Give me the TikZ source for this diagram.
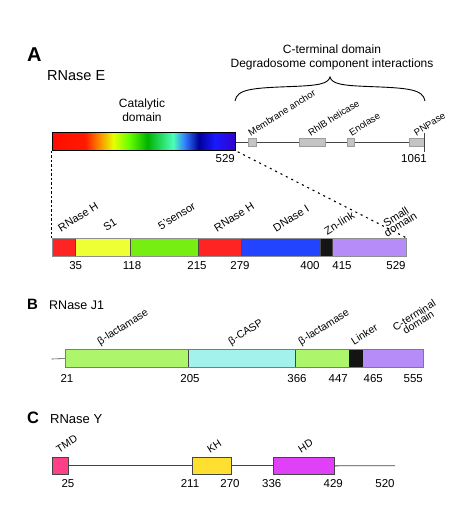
\documentclass[tikz,border=0pt]{standalone}
\usepackage{fontspec}
\usepackage{graphicx}
\setmainfont{Liberation Sans}
\definecolor{eRed}{HTML}{FF2424}
\definecolor{eYellow}{HTML}{EEFF33}
\definecolor{eGreen}{HTML}{77EE11}
\definecolor{eBlue}{HTML}{2244FF}
\definecolor{eLav}{HTML}{B58CF8}
\definecolor{jGreen}{HTML}{ADF56B}
\definecolor{jCyan}{HTML}{A3F3EC}
\definecolor{yPink}{HTML}{FF4088}
\definecolor{yYellow}{HTML}{FFE030}
\definecolor{yMag}{HTML}{E040F8}
\definecolor{boxGray}{HTML}{C4C4C4}
\definecolor{lineGray}{HTML}{444444}
\pgfdeclarehorizontalshading{rainbowE}{100bp}{%
color(0bp)=(red!90!orange);
color(25bp)=(red!90!orange);
color(34bp)=(red!80!orange);
color(37.5bp)=(orange);
color(41.7bp)=(yellow!90!green);
color(46bp)=(green!60!yellow);
color(51bp)=(green!70!black);
color(58bp)=(green!40!cyan!70!white);
color(61bp)=(cyan!40!blue!80!white);
color(65bp)=(blue!60!black);
color(69.5bp)=(blue!90!white);
color(75bp)=(blue!60!violet);
color(100bp)=(blue!60!violet)}
\newcommand{\rlab}[1]{\rotatebox{32}{#1}}
\newcommand{\rlabtwo}[2]{\rotatebox{32}{\begin{tabular}{@{}c@{}}#1\\[-3pt]#2\end{tabular}}}
\tikzset{
  gbox/.style={fill=boxGray, draw=boxGray!80!black, line width=0.3pt},
  num/.style={font=\fontsize{11.5}{12}\selectfont, inner sep=0pt, anchor=base},
  lab/.style={font=\fontsize{11}{12}\selectfont, inner sep=0pt, anchor=base west},
  slab/.style={font=\fontsize{9.5}{10}\selectfont, inner sep=0pt, anchor=base west},
  mlab/.style={font=\fontsize{11}{11.5}\selectfont, inner sep=0pt},
  panel/.style={font=\bfseries, inner sep=0pt, anchor=base west},
  title/.style={inner sep=0pt, anchor=base west},
  dots/.style={line width=1.1pt, dash pattern=on 2pt off 4pt},
  backbone/.style={draw=lineGray, line width=0.9pt}
}
\begin{document}
\begin{tikzpicture}[x=1pt,y=-1pt]
\useasboundingbox (0,0) rectangle (474,511);
% ---------- Panel A ----------
\node[panel, font=\fontsize{20}{20}\bfseries] (pA) at (27,62) {A};
\node[title, font=\fontsize{14.5}{15}\selectfont] (tE) at (47,80) {RNase E};
\node[font=\fontsize{12}{14}\selectfont, align=center, inner sep=0pt] (cat) at (142,110) {Catalytic\\domain};
\node[font=\fontsize{12}{14}\selectfont, align=center, inner sep=0pt] (cterm) at (332,57) {C-terminal domain\\Degradosome component interactions};
% brace
\draw[line width=0.9pt] (235,101) .. controls (237,89) and (252,88) .. (292,86.5) .. controls (318,85.5) and (328,84) .. (330,77)
  .. controls (332,84) and (342,85.5) .. (368,86.5) .. controls (408,88) and (423,89) .. (425,101);
% C-terminal backbone
\coordinate (bbS) at (235,142.3);
\coordinate (bbE) at (424,142.3);
\draw[backbone] (bbS) -- (bbE);
\node[gbox, minimum width=7.4pt, minimum height=8pt, inner sep=0pt] (ma) at (252,142.3) {};
\node[gbox, minimum width=25.7pt, minimum height=8pt, inner sep=0pt] (rh) at (312.2,142.3) {};
\node[gbox, minimum width=7pt, minimum height=8pt, inner sep=0pt] (en) at (350.8,142.3) {};
\node[gbox, minimum width=14.7pt, minimum height=8pt, inner sep=0pt] (pn) at (416.6,142.3) {};
\coordinate (tkT) at (424,132.5);
\coordinate (tkB) at (424,152);
\draw[backbone] (tkT) -- (tkB);
% gradient catalytic bar
\node[draw=black, line width=0.8pt, shading=rainbowE, minimum width=183.3pt, minimum height=17.7pt, inner sep=0pt, anchor=north west] (cbar) at (51.7,132.3) {};
\node[num, anchor=base east] (n529a) at (235,162) {529};
\node[num] (n1061) at (414,162) {1061};
% slanted labels of partners
\node[slab] (lma) at (247,136) {\rlab{Membrane anchor}};
\node[slab] (lrh) at (307,136) {\rlab{RhlB helicase}};
\node[slab] (len) at (348,136) {\rlab{Enolase}};
\node[slab] (lpn) at (413,136) {\rlab{PNPase}};
% lower expanded bar
\fill[eRed]    (51.7,237.7) rectangle (75.7,255.7);
\fill[eYellow] (75.7,237.7) rectangle (130.3,255.7);
\fill[eGreen]  (130.3,237.7) rectangle (198,255.7);
\fill[eRed]    (198,237.7) rectangle (241,255.7);
\fill[eBlue]   (241,237.7) rectangle (320.7,255.7);
\fill[black!92] (320.7,237.7) rectangle (332,255.7);
\fill[eLav]    (332,237.7) rectangle (405.7,255.7);
\foreach \xx in {75.7,130.3,198,241,320.7,332}{\draw[black!70, line width=0.5pt] (\xx,237.7) -- (\xx,255.7);}
\node[draw=lineGray!60, line width=0.4pt, minimum width=354pt, minimum height=18pt, inner sep=0pt, anchor=north west] (ebar) at (51.7,237.7) {};
% dotted connectors
\draw[dots, dash pattern=on 2.5pt off 2pt] (cbar.south west) -- (ebar.north west);
\draw[dots] ([xshift=2pt,yshift=-1pt]cbar.south east) -- (ebar.north east);
% numbers
\node[num] (e35) at (75.7,269) {35};
\node[num] (e118) at (132,269) {118};
\node[num] (e215) at (197,269) {215};
\node[num] (e279) at (240,269) {279};
\node[num] (e400) at (310,269) {400};
\node[num] (e415) at (342,269) {415};
\node[num] (e529) at (396,269) {529};
% labels
\node[lab] (lrn1) at (57,232) {\rlab{RNase H}};
\node[lab] (ls1) at (102,231) {\rlab{S1}};
\node[lab] (lsen) at (157,230) {\rlab{5'sensor}};
\node[lab] (lrn2) at (213,232) {\rlab{RNase H}};
\node[lab] (ldn) at (272,232) {\rlab{DNase I}};
\node[lab] (lzn) at (323,235) {\rlab{Zn-link}};
\node[mlab] (lsm) at (399,222) {\rlabtwo{Small}{domain}};
% ---------- Panel B ----------
\node[panel, font=\fontsize{15}{15}\bfseries] (pB) at (27,309.5) {B};
\node[title, font=\fontsize{12.5}{13}\selectfont] (tJ) at (49,309.5) {RNase J1};
\coordinate (jS) at (51.7,359);
\fill[jGreen] (65,349.3) rectangle (188.3,367.3);
\fill[jCyan]  (188.3,349.3) rectangle (295,367.3);
\fill[jGreen] (295,349.3) rectangle (349,367.3);
\fill[black!92] (349,349.3) rectangle (363.3,367.3);
\fill[eLav]   (363.3,349.3) rectangle (423,367.3);
\foreach \xx in {188.3,295}{\draw[lineGray, line width=0.6pt] (\xx,349.3) -- (\xx,367.3);}
\node[draw=lineGray!70, line width=0.5pt, minimum width=358pt, minimum height=18pt, inner sep=0pt, anchor=north west] (jbar) at (65,349.3) {};
\draw[draw=lineGray, line width=0.6pt] (jS) -- (jbar.west);
\node[num] (j21) at (67,382) {21};
\node[num] (j205) at (190,382) {205};
\node[num] (j366) at (297,382) {366};
\node[num] (j447) at (338.3,382) {447};
\node[num] (j465) at (373.3,382) {465};
\node[num] (j555) at (413.3,382) {555};
\node[lab, font=\fontsize{10.5}{11}\selectfont] (jl1) at (96,345) {\rlab{β-lactamase}};
\node[lab, font=\fontsize{10.5}{11}\selectfont] (jl2) at (227,345) {\rlab{β-CASP}};
\node[lab, font=\fontsize{10.5}{11}\selectfont] (jl3) at (297,345) {\rlab{β-lactamase}};
\node[lab, font=\fontsize{10.5}{11}\selectfont] (jl4) at (350,345) {\rlab{Linker}};
\node[mlab, font=\fontsize{10.5}{11}\selectfont] (jl5) at (417,320) {\rlabtwo{C-terminal}{domain}};
% ---------- Panel C ----------
\node[panel, font=\fontsize{16.5}{16.5}\bfseries] (pC) at (27,423.5) {C};
\node[title, font=\fontsize{13}{13}\selectfont] (tY) at (50,423.5) {RNase Y};
\coordinate (yE) at (395,465.7);
\node[fill=yPink, draw=lineGray, line width=0.6pt, minimum width=16.6pt, minimum height=17.6pt, inner sep=0pt, anchor=north west] (tmd) at (51.7,456.7) {};
\node[fill=yYellow, draw=lineGray, line width=0.6pt, minimum width=39.3pt, minimum height=17.6pt, inner sep=0pt, anchor=north west] (kh) at (191.7,456.7) {};
\node[fill=yMag, draw=lineGray, line width=0.6pt, minimum width=61.3pt, minimum height=17.6pt, inner sep=0pt, anchor=north west] (hd) at (272.7,456.7) {};
\draw[backbone] (tmd.east) -- (kh.west);
\draw[backbone] (kh.east) -- (hd.west);
\draw[backbone] (hd.east) -- (yE);
\node[num] (y25) at (68,487.5) {25};
\node[num] (y211) at (190,487.5) {211};
\node[num] (y270) at (230,487.5) {270};
\node[num] (y336) at (271.7,487.5) {336};
\node[num] (y429) at (333.3,487.5) {429};
\node[num] (y520) at (385,487.5) {520};
\node[lab, font=\fontsize{10.5}{11}\selectfont] (ltmd) at (55,453) {\rlab{TMD}};
\node[lab, font=\fontsize{10.5}{11}\selectfont] (lkh) at (206,453) {\rlab{KH}};
\node[lab, font=\fontsize{10.5}{11}\selectfont] (lhd) at (297,453) {\rlab{HD}};
\end{tikzpicture}
\end{document}
